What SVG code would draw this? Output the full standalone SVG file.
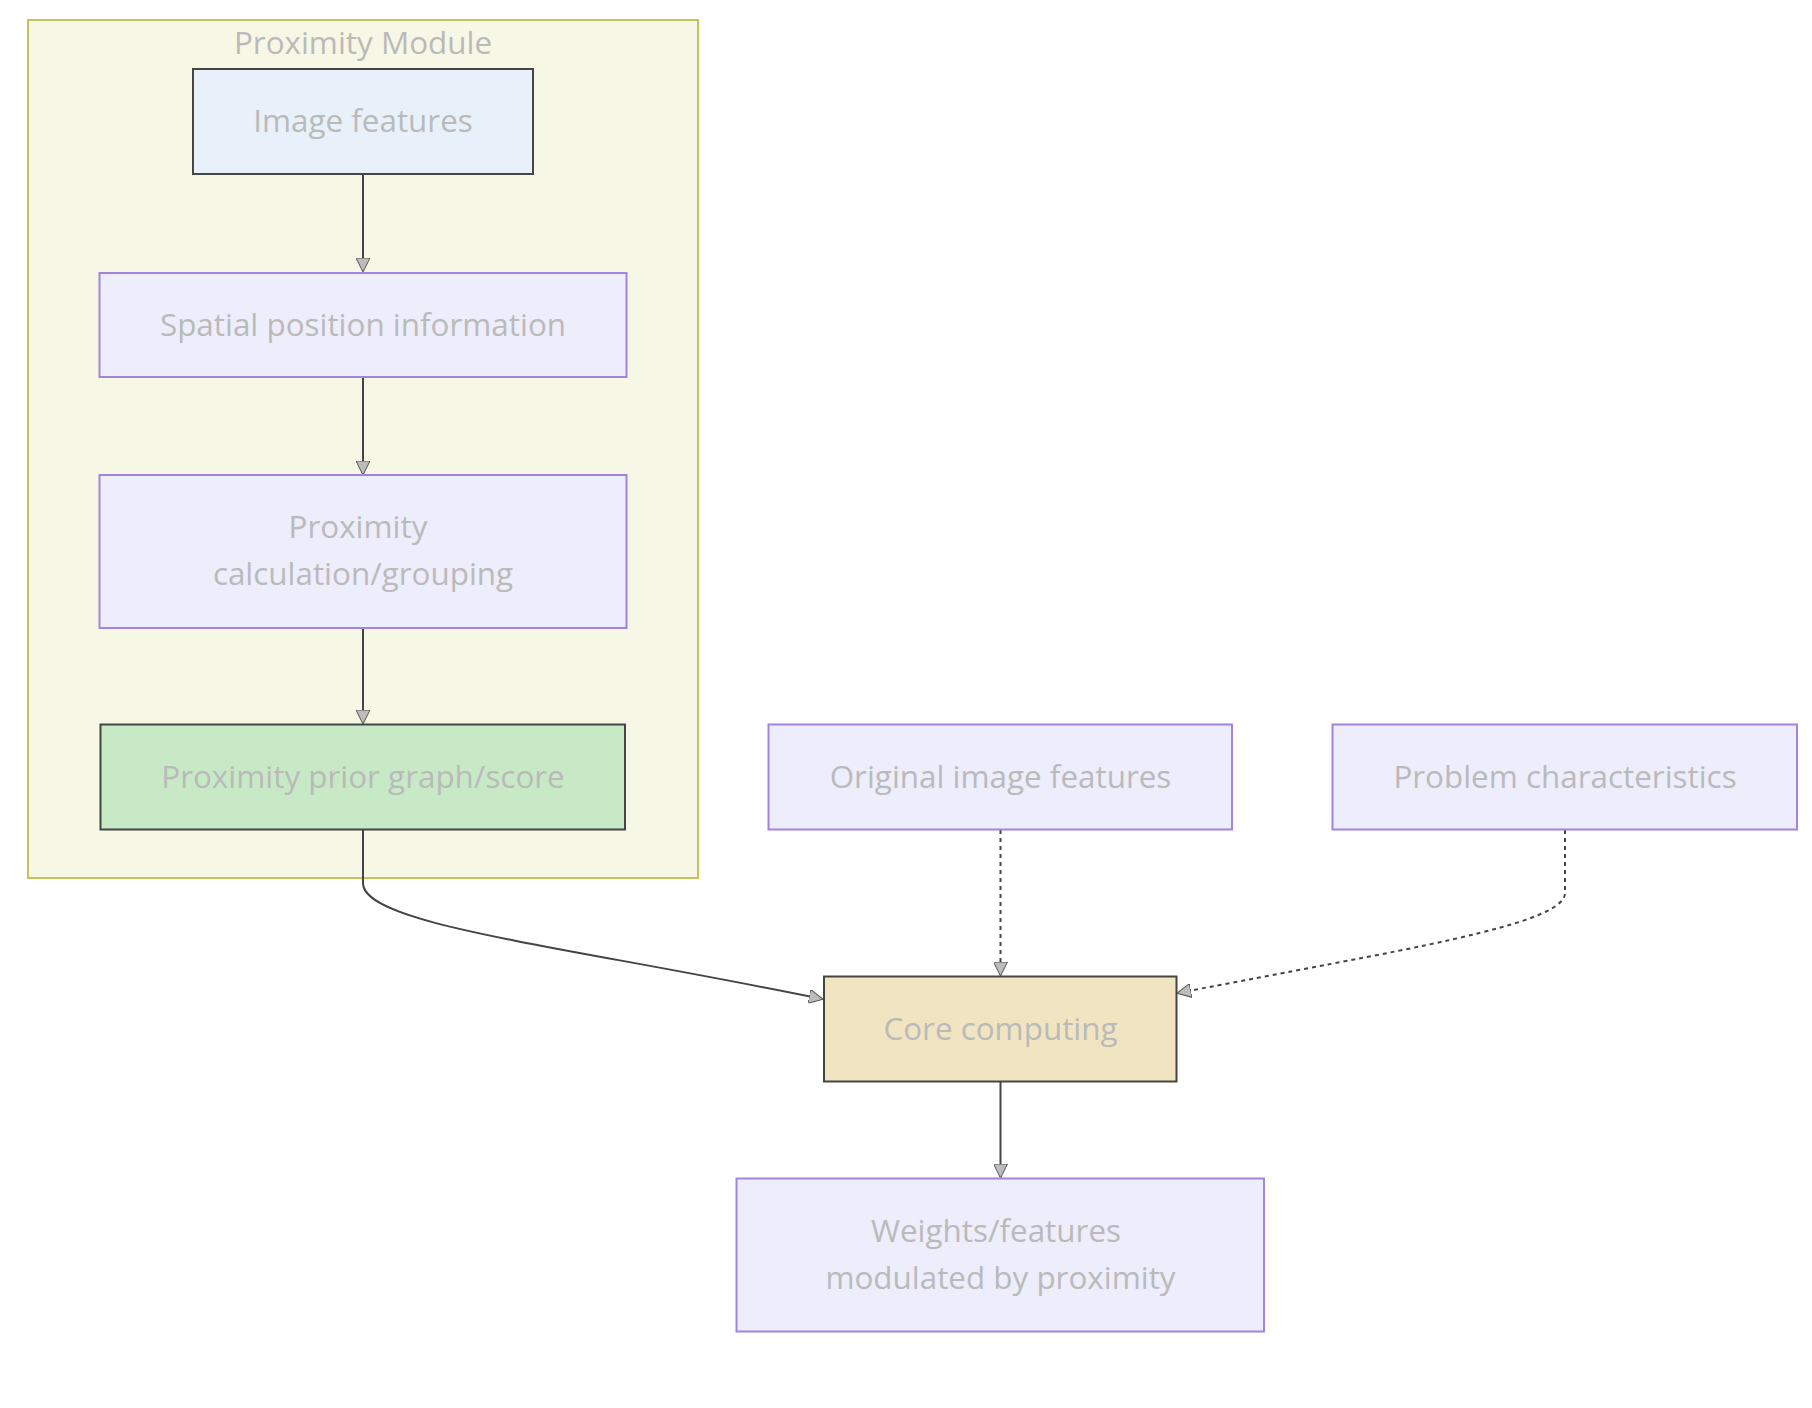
<svg xmlns="http://www.w3.org/2000/svg" width="1812" height="1408" viewBox="0 0 1812 1408">
<style>
  text { font-family: "Open Sans", "Liberation Sans", sans-serif; font-size: 31.4px; fill: #bababa; text-anchor: middle; dominant-baseline: central; }
  .cluster { fill: #f7f7e5; stroke: #c4c45e; stroke-width: 2; }
  .node { fill: #ededfb; stroke: #a283de; stroke-width: 2; }
  .dark { stroke: #454545; stroke-width: 2; }
  .edge { fill: none; stroke: #444; stroke-width: 2; }
  .dash { stroke-dasharray: 4 4; }
</style>
<defs>
  <marker id="arrow" viewBox="0 0 14 14" refX="13" refY="7" markerWidth="14" markerHeight="14" markerUnits="userSpaceOnUse" orient="auto">
    <path d="M0,0 L14,7 L0,14 z" fill="#bcbcbc" stroke="#555" stroke-width="1"/>
  </marker>
</defs>
<rect width="1812" height="1408" fill="#ffffff"/>
<g id="cluster-proximity-module">
  <rect class="cluster" x="28" y="20" width="670" height="858"/>
  <text x="363" y="41">Proximity Module</text>
</g>
<g id="edges">
  <path class="edge" d="M363,175 L363,271" marker-end="url(#arrow)"/>
  <path class="edge" d="M363,377 L363,474" marker-end="url(#arrow)"/>
  <path class="edge" d="M363,628 L363,723" marker-end="url(#arrow)"/>
  <path class="edge" d="M363,830 L363,883 C363,925 560,945 822,999" marker-end="url(#arrow)"/>
  <path class="edge dash" d="M1000.5,830 L1000.5,975" marker-end="url(#arrow)"/>
  <path class="edge dash" d="M1565,830 L1565,893 C1565,925 1400,950 1178,993" marker-end="url(#arrow)"/>
  <path class="edge" d="M1000.5,1082 L1000.5,1177" marker-end="url(#arrow)"/>
</g>
<g id="node-image-features">
  <rect class="dark" fill="#e8f0f9" x="193" y="69" width="340" height="105"/>
  <text x="363" y="119">Image features</text>
</g>
<g id="node-spatial-position">
  <rect class="node" x="99.5" y="273" width="527" height="104"/>
  <text x="363" y="323">Spatial position information</text>
</g>
<g id="node-proximity-calc">
  <rect class="node" x="99.5" y="475" width="527" height="153"/>
  <text x="358" y="525">Proximity</text>
  <text x="363" y="572">calculation/grouping</text>
</g>
<g id="node-proximity-prior">
  <rect class="dark" fill="#c8e9c5" x="100.5" y="724.5" width="524.5" height="105"/>
  <text x="363" y="775">Proximity prior graph/score</text>
</g>
<g id="node-original-image-features">
  <rect class="node" x="768.5" y="724.5" width="463.5" height="105"/>
  <text x="1000.5" y="775">Original image features</text>
</g>
<g id="node-problem-characteristics">
  <rect class="node" x="1332.5" y="724.5" width="464.5" height="105"/>
  <text x="1565" y="775">Problem characteristics</text>
</g>
<g id="node-core-computing">
  <rect class="dark" fill="#f0e5c0" x="824" y="976.5" width="352.5" height="105"/>
  <text x="1000.5" y="1027">Core computing</text>
</g>
<g id="node-weights">
  <rect class="node" x="736.5" y="1178.5" width="527.5" height="153"/>
  <text x="996" y="1229">Weights/features</text>
  <text x="1000.5" y="1276">modulated by proximity</text>
</g>
</svg>
